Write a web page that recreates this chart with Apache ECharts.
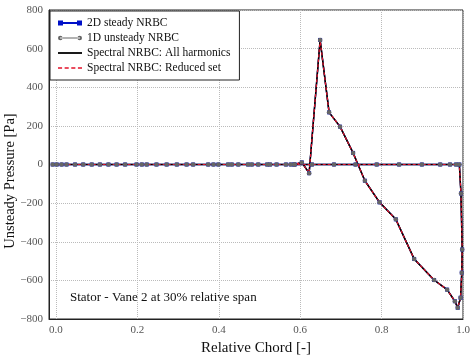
<!DOCTYPE html>
<html>
<head>
<meta charset="utf-8">
<script src="https://cdn.jsdelivr.net/npm/echarts@6/dist/echarts.min.js"></script>
<style>html,body{margin:0;padding:0;background:#fff;}#c{width:474px;height:355px;}</style>
</head>
<body>
<div id="c"></div>
<script>
// Pressure side (leading edge -> trailing edge), nearly zero
const pressureChord = [-0.008, 0.002, 0.014, 0.026, 0.047, 0.067, 0.088, 0.108, 0.129, 0.149, 0.170, 0.198, 0.211, 0.223, 0.247, 0.272, 0.297, 0.321, 0.337, 0.374, 0.387, 0.399, 0.423, 0.432, 0.448, 0.472, 0.481, 0.497, 0.519, 0.526, 0.542, 0.565, 0.577, 0.586, 0.629, 0.683, 0.736, 0.788, 0.843, 0.899, 0.944, 0.968, 0.983, 0.991];
const pressureValue = [0, 0, 0, 0, 0, 0, 0, 0, 0, 0, 0, 0, 0, 0, 0, 0, 0, 0, 0, 0, 0, 0, 0, 0, 0, 0, 0, 0, 0, 0, 0, 0, 0, 0, 0, 0, 0, 0, 0, 0, 0, 0, 0, 0];
// Trailing edge
const trailingChord = [0.995, 0.998, 0.997, 0.994];
const trailingValue = [-150, -440, -560, -690];
// Suction side (trailing edge -> back towards leading edge)
const suctionChord = [0.987, 0.980, 0.961, 0.929, 0.880, 0.835, 0.795, 0.759, 0.730, 0.698, 0.671, 0.649, 0.622, 0.604, 0.586];
const suctionValue = [-742, -708, -648, -598, -489, -284, -196, -84, 60, 196, 270, 645, -45, 11, 0];

const seriesNames = ['2D steady NRBC', '1D unsteady NRBC', 'Spectral NRBC: All harmonics', 'Spectral NRBC: Reduced set'];
const xTitle = 'Relative Chord [-]';
const yTitle = 'Unsteady Pressure [Pa]';
const annotation = 'Stator - Vane 2 at 30% relative span';

const loop = [];
pressureChord.forEach((x, i) => loop.push([x, pressureValue[i]]));
trailingChord.forEach((x, i) => loop.push([x, trailingValue[i]]));
suctionChord.forEach((x, i) => loop.push([x, suctionValue[i]]));

const serif = 'Liberation Serif';
const iconSquares = 'path://M0,2.5H5V7.5H0ZM0,4.1H24V5.9H0ZM19,2.5H24V7.5H19Z';
const iconCircles = 'path://M0,5a2.3,2.3 0 1,0 4.6,0a2.3,2.3 0 1,0 -4.6,0ZM2,4.4H22V5.6H2ZM19.4,5a2.3,2.3 0 1,0 4.6,0a2.3,2.3 0 1,0 -4.6,0Z';
const iconSolid = 'path://M0,4.1H24V5.9H0Z';
const iconDashed = 'path://M0,4.3H4V5.7H0ZM6.5,4.3H10.5V5.7H6.5ZM13,4.3H17V5.7H13ZM19.5,4.3H23.5V5.7H19.5Z';

const chart = echarts.init(document.getElementById('c'), null, {renderer: 'canvas'});
chart.setOption({
  animation: false,
  backgroundColor: '#fff',
  grid: {left: 49, right: 11, top: 10, bottom: 36, outerBoundsMode: 'none', containLabel: false,
    show: true, borderColor: '#222', borderWidth: 1, backgroundColor: 'transparent'},
  legend: {
    orient: 'vertical', left: 50, top: 11,
    itemWidth: 24, itemHeight: 10, itemGap: 1,
    padding: [5, 9, 5, 8],
    borderColor: '#222', borderWidth: 1, backgroundColor: '#fff',
    textStyle: {fontFamily: serif, fontSize: 11.5, color: '#111', lineHeight: 14},
    data: [
      {name: seriesNames[0], icon: iconSquares},
      {name: seriesNames[1], icon: iconCircles},
      {name: seriesNames[2], icon: iconSolid},
      {name: seriesNames[3], icon: iconDashed}
    ]
  },
  xAxis: {
    type: 'value', min: -0.017, max: 1.0, splitNumber: 5,
    name: xTitle, nameLocation: 'middle', nameGap: 18,
    nameTextStyle: {fontFamily: serif, fontSize: 15, color: '#111'},
    axisLine: {show: true, onZero: false, lineStyle: {color: '#222'}},
    axisTick: {show: false},
    axisLabel: {showMinLabel: false, fontFamily: serif, fontSize: 11, color: '#555', margin: 6,
      formatter: v => v.toFixed(1)},
    splitLine: {show: true, lineStyle: {color: '#bbb', type: 'dotted', width: 1}}
  },
  yAxis: {
    type: 'value', min: -800, max: 800, interval: 200,
    axisLine: {show: true, onZero: false, lineStyle: {color: '#222'}},
    axisTick: {show: false},
    axisLabel: {fontFamily: serif, fontSize: 11, color: '#555', margin: 6,
      formatter: v => (v < 0 ? '\u2212' + Math.abs(v) : String(v))},
    splitLine: {show: true, lineStyle: {color: '#bbb', type: 'dotted', width: 1}}
  },
  graphic: [
    {type: 'text', x: 10, y: 181, rotation: Math.PI / 2,
      style: {text: yTitle, fontFamily: serif, fontSize: 14.5, fill: '#111', align: 'center', verticalAlign: 'middle'}},
    {type: 'text', left: 70, top: 291,
      style: {text: annotation, fontFamily: serif, fontSize: 13, fill: '#111'}}
  ],
  series: [
    {name: seriesNames[0], type: 'line', data: loop, symbol: 'rect', symbolSize: 4, showSymbol: true,
      lineStyle: {color: '#0010c8', width: 1.4}, itemStyle: {color: '#0010c8'}},
    {name: seriesNames[1], type: 'line', data: loop, symbol: 'circle', symbolSize: 4.5, showSymbol: true,
      lineStyle: {color: '#777', width: 1.2}, itemStyle: {color: '#666'}},
    {name: seriesNames[2], type: 'line', data: loop, symbol: 'none',
      lineStyle: {color: '#000', width: 1.5}, itemStyle: {color: '#000'}},
    {name: seriesNames[3], type: 'line', data: loop, symbol: 'none',
      lineStyle: {color: '#e3122a', width: 1.2, type: [3, 2]}, itemStyle: {color: '#e3122a'}}
  ]
});
</script>
</body>
</html>
